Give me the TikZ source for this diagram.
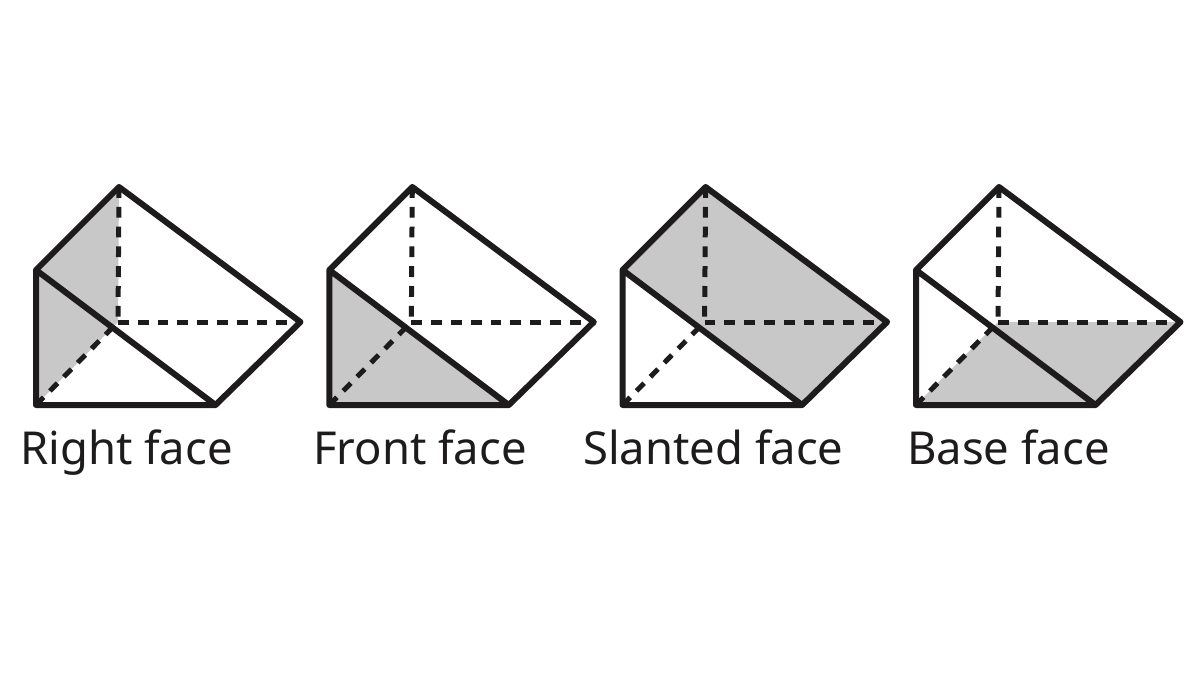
\documentclass[tikz,border=0pt]{standalone}
\usepackage{fontspec}
\setmainfont{Noto Sans}
\tikzset{
  facefill/.style={fill=facegray,draw=none},
  solidedge/.style={draw=inkblack,line width=6pt,line join=round,line cap=round},
  hiddenedge/.style={draw=inkblack,line width=5pt,dash pattern=on 10.8pt off 9pt},
  facelabel/.style={anchor=base west,inner sep=0pt,text=inkblack,font=\fontsize{45.4}{45.4}\selectfont}
}
\definecolor{facegray}{HTML}{C8C8C8}
\definecolor{inkblack}{HTML}{1D1B1C}
% #1 prefix, #2 x offset, #3 shading code
\newcommand{\prismfig}[3]{%
  \begin{scope}[shift={(#2,0)}]
    \coordinate (#1a) at (36,270);
    \coordinate (#1b) at (36,405);
    \coordinate (#1c) at (215.5,405);
    \coordinate (#1d) at (119,187);
    \coordinate (#1e) at (300.5,322);
    \coordinate (#1f) at (118,322);
    \coordinate (#1m) at (111,329);
    #3
    \draw[hiddenedge] (#1d) -- (#1f);
    \draw[hiddenedge] (#1f) -- (#1e);
    \draw[hiddenedge] (#1b) -- (#1m);
    \draw[solidedge] (#1a) -- (#1b) -- (#1c) -- (#1a) -- (#1d) -- (#1e) -- (#1c);
  \end{scope}}
\begin{document}
\begin{tikzpicture}[x=1pt,y=-1pt]
\useasboundingbox (0,0) rectangle (1200,675);
\fill[white] (0,0) rectangle (1200,675);
\prismfig{p}{0}{\fill[facegray] (pa) -- (pd) -- (pf) -- (pb) -- cycle;}
\prismfig{q}{293.3}{\fill[facegray] (qa) -- (qb) -- (qc) -- cycle;}
\prismfig{r}{586.6}{\fill[facegray] (ra) -- (rd) -- (re) -- (rc) -- cycle;}
\prismfig{s}{880}{\fill[facegray] (sb) -- (sf) -- (se) -- (sc) -- cycle;}
\node[facelabel] (l1) at (20,464) {Right face};
\node[facelabel] (l2) at (313,464) {Front face};
\node[facelabel] (l3) at (583,464) {Slanted face};
\node[facelabel] (l4) at (907,464) {Base face};
\end{tikzpicture}
\end{document}
